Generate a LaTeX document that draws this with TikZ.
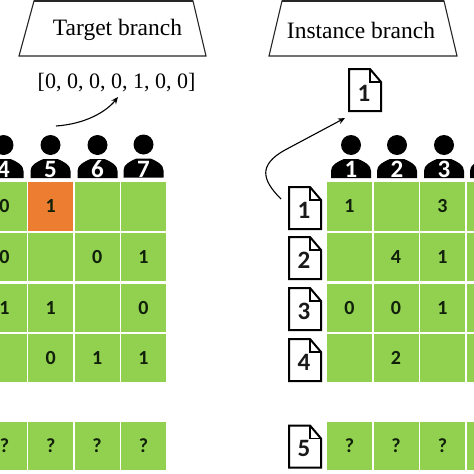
\documentclass[tikz,border=0pt]{standalone}
\usepackage{fontspec}
\setmainfont{Liberation Serif}
\newfontfamily\cellfont{Carlito}[BoldFont={Carlito Bold}]
\definecolor{cellgreen}{HTML}{92D050}
\definecolor{cellorange}{HTML}{ED7D31}
\definecolor{inkdark}{HTML}{10200A}
\usetikzlibrary{arrows.meta}
\tikzset{
  branchbox/.style={draw=black!85, line width=1.1pt},
  branchlabel/.style={font=\fontsize{23.5}{26}\selectfont, text=black},
  cellbox/.style={fill=cellgreen, minimum width=45pt, minimum height=48.5pt, inner sep=0pt, outer sep=0pt,
    font=\cellfont\bfseries\fontsize{20}{22}\selectfont, text=inkdark},
  hotcell/.style={cellbox, fill=cellorange},
  docnum/.style={font=\cellfont\bfseries\fontsize{25}{27}\selectfont, text=black!90, inner sep=0pt},
  usernum/.style={font=\cellfont\bfseries\fontsize{25}{27}\selectfont, text=white, inner sep=0pt},
  flowarrow/.style={-{Stealth[length=7pt,width=6pt]}, line width=1.1pt, black},
  pics/docicon/.style={code={
    \draw[line width=2pt, fill=white, line join=miter] (-16,-21) -- (5,-21) -- (16,-8) -- (16,21) -- (-16,21) -- cycle;
    \draw[line width=1.5pt] (5,-21) -- (5,-8) -- (16,-8);
  }},
  pics/usericon/.style={code={
    \fill (0,-23) circle (10);
    \fill (-20,10) -- (-20,3) .. controls (-20,-3) and (-14,-6) .. (-7,-9)
      -- (7,-9) .. controls (14,-6) and (20,-3) .. (20,3) -- (20,10) -- cycle;
  }},
}
\begin{document}
\begin{tikzpicture}[x=1pt, y=-1pt]
  \useasboundingbox (0,0) rectangle (474,474);
  \clip (0,0) rectangle (474,474);

  % Branch headers
  \draw[branchbox] (34,1) -- (193,1) -- (206,56) -- (19,56) -- cycle;
  \fill[black!85] (34,0) rectangle (193,2);
  \node[branchlabel] (targetlabel) at (117.5,30) {Target branch};
  \draw[branchbox] (282,1) -- (444,1) -- (457,56) -- (269,56) -- cycle;
  \fill[black!85] (282,0) rectangle (444,2);
  \node[branchlabel] (instancelabel) at (361,30) {Instance branch};

  % Outputs
  \node[inner sep=0pt, font=\fontsize{22}{24}\selectfont] (onehot) at (116.5,83) {[0, 0, 0, 0, 1, 0, 0]};
  \pic at (365,90) {docicon};
  \node[docnum] (doctop) at (364,93) {1};

  % Users, target side
  \foreach \name/\px/\py in {4/3.5/168, 5/50.5/168, 6/97.5/168, 7/143.5/167.5} {
    \pic at (\px,\py) {usericon};
    \node[usernum] (tuser\name) at (\px,169.5) {\name};
  }
  % Users, instance side
  \foreach \name/\px in {1/351, 2/397, 3/444} {
    \pic at (\px,168) {usericon};
    \node[usernum] (iuser\name) at (\px,169.5) {\name};
  }
  \pic at (490,168) {usericon};

  % Target table
  \foreach \row/\py/\vals in {a/206.5/{0,{},{},{}}, b/257/{0,{},0,1}, c/308/{1,1,{},0}, d/358/{{},0,1,1}, e/446/{?,?,?,?}} {
    \foreach \val [count=\c] in \vals {
      \pgfmathsetmacro{\px}{4.5+46.3*(\c-1)}
      \node[cellbox] (t\row\c) at (\px,\py) {\val};
    }
  }
  \node[hotcell] (thot) at (50.8,206.5) {1};

  % Instance table
  \foreach \row/\py/\vals in {a/206.5/{1,{},3,{}}, b/257/{{},4,1,{}}, c/308/{0,0,1,{}}, d/358/{{},2,{},{}}, e/446/{?,?,?,{}}} {
    \foreach \val [count=\c] in \vals {
      \pgfmathsetmacro{\px}{349.5+46.5*(\c-1)}
      \node[cellbox] (i\row\c) at (\px,\py) {\val};
    }
  }

  % Instance documents
  \foreach \name/\py in {1/208, 2/258, 3/309, 4/360, 5/446.5} {
    \pic at (305,\py) {docicon};
    \node[docnum] (doc\name) at (304,\py+2) {\name};
  }

  % Arrows
  \coordinate (tstart) at (56,126);
  \coordinate (tend) at (118,97);
  \coordinate (istart) at (281,199);
  \coordinate (iend) at (345,118);
  \draw[flowarrow] (tstart) .. controls (85,124) and (106,112) .. (tend);
  \draw[flowarrow] (istart) .. controls (262,180) and (258,165) .. (285,150) -- (iend);
\end{tikzpicture}
\end{document}
